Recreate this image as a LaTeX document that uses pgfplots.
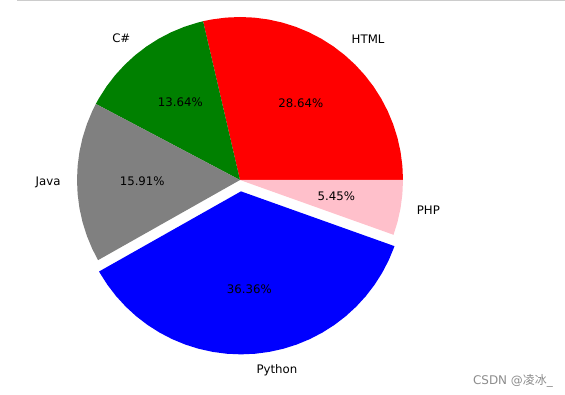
\documentclass[border=0pt]{standalone}
\usepackage{pgfplots}
\pgfplotsset{compat=1.18}
\usepackage{fontspec}
\setmainfont{DejaVu Sans}
\newfontfamily\cjk{Noto Sans CJK SC}
\definecolor{mplgreen}{RGB}{0,128,0}
\definecolor{mplgray}{RGB}{128,128,128}
\definecolor{mplpink}{RGB}{255,192,203}
\begin{document}
\fontsize{11.8}{14}\selectfont
\begin{tikzpicture}
\path[use as bounding box] (0,0) rectangle (565bp,395bp);
\draw[color=black!20, line width=1bp] (17bp,394bp) -- (565bp,394bp);
\begin{axis}[
  at={(0,0)}, anchor=south west,
  scale only axis, width=565bp, height=395bp,
  xmin=-1.47239, xmax=1.99387, ymin=-1.31902, ymax=1.10429,
  hide axis, clip=false,
]
% HTML 63
\addplot[fill=red, draw=none, data cs=polar] coordinates {
(0,0) (0,1) (5,1) (10,1) (15,1) (20,1) (25,1) (30,1) (35,1) (40,1) (45,1) (50,1)
(55,1) (60,1) (65,1) (70,1) (75,1) (80,1) (85,1) (90,1) (95,1) (100,1) (103.09,1) (0,0)};
% C# 30
\addplot[fill=mplgreen, draw=none, data cs=polar] coordinates {
(0,0) (103.09,1) (105,1) (110,1) (115,1) (120,1) (125,1) (130,1) (135,1) (140,1)
(145,1) (150,1) (152.18,1) (0,0)};
% Java 35
\addplot[fill=mplgray, draw=none, data cs=polar] coordinates {
(0,0) (152.18,1) (155,1) (160,1) (165,1) (170,1) (175,1) (180,1) (185,1) (190,1)
(195,1) (200,1) (205,1) (209.45,1) (0,0)};
% Python 80 (exploded 0.07)
\addplot[fill=blue, draw=none, data cs=polar, xshift=0.98bp, yshift=-11.37bp] coordinates {
(0,0) (209.45,1) (210,1) (215,1) (220,1) (225,1) (230,1) (235,1) (240,1) (245,1)
(250,1) (255,1) (260,1) (265,1) (270,1) (275,1) (280,1) (285,1) (290,1) (295,1)
(300,1) (305,1) (310,1) (315,1) (320,1) (325,1) (330,1) (335,1) (340,1) (340.36,1) (0,0)};
% PHP 12
\addplot[fill=mplpink, draw=none, data cs=polar] coordinates {
(0,0) (340.36,1) (345,1) (350,1) (355,1) (360,1) (0,0)};
% labels
\node[anchor=west, inner sep=0pt] at (axis cs:0.6843,0.8612) {HTML};
\node[anchor=east, inner sep=0pt] at (axis cs:-0.6717,0.8712) {C\#};
\node[anchor=east, inner sep=0pt] at (axis cs:-1.0999,-0.0157) {Java};
\node[anchor=west, inner sep=0pt] at (axis cs:0.1001,-1.1657) {Python};
\node[anchor=west, inner sep=0pt] at (axis cs:1.0839,-0.1876) {PHP};
% percentages
\node[inner sep=0pt] at (axis cs:0.3733,0.4697) {28.64\%};
\node[inner sep=0pt] at (axis cs:-0.3664,0.4752) {13.64\%};
\node[inner sep=0pt] at (axis cs:-0.5999,-0.0086) {15.91\%};
\node[inner sep=0pt] at (axis cs:0.0573,-0.6675) {36.36\%};
\node[inner sep=0pt] at (axis cs:0.5912,-0.1023) {5.45\%};
\end{axis}
\node[anchor=east, inner sep=0pt, text=black!45] at (553bp,14bp) {\fontsize{12}{14}\selectfont CSDN @{\cjk 凌冰}\_};
\end{tikzpicture}
\end{document}
